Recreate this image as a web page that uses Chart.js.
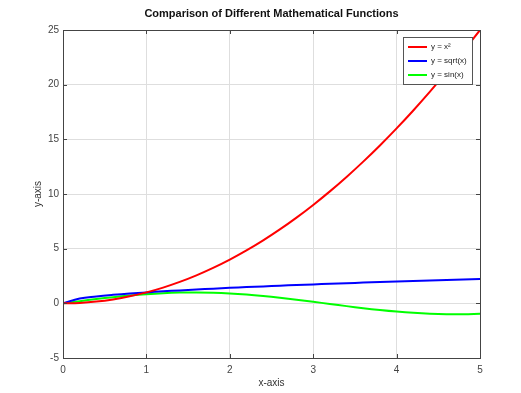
<!DOCTYPE html>
<html>
<head>
<meta charset="utf-8">
<script src="https://cdn.jsdelivr.net/npm/chart.js@4.4.1/dist/chart.umd.min.js"></script>
<style>
  html, body { margin: 0; padding: 0; background: #fff; }
  #wrap { width: 521px; height: 393px; }
</style>
</head>
<body>
<div id="wrap"><canvas id="funcChart" width="521" height="393"></canvas></div>
<script>
const xValues = [0, 0.2, 0.4, 0.6, 0.8, 1, 1.2, 1.4, 1.6, 1.8, 2, 2.2, 2.4, 2.6, 2.8, 3,
  3.2, 3.4, 3.6, 3.8, 4, 4.2, 4.4, 4.6, 4.8, 5];
const squareVals = [0, 0.04, 0.16, 0.36, 0.64, 1, 1.44, 1.96, 2.56, 3.24, 4, 4.84, 5.76,
  6.76, 7.84, 9, 10.24, 11.56, 12.96, 14.44, 16, 17.64, 19.36, 21.16, 23.04, 25];
const sqrtVals = [0, 0.447, 0.632, 0.775, 0.894, 1, 1.095, 1.183, 1.265, 1.342, 1.414,
  1.483, 1.549, 1.612, 1.673, 1.732, 1.789, 1.844, 1.897, 1.949, 2, 2.049, 2.098, 2.145,
  2.191, 2.236];
const sinVals = [0, 0.199, 0.389, 0.565, 0.717, 0.841, 0.932, 0.985, 1.0, 0.974, 0.909,
  0.808, 0.675, 0.516, 0.335, 0.141, -0.058, -0.256, -0.443, -0.612, -0.757, -0.872,
  -0.952, -0.994, -0.996, -0.959];
const seriesLabels = ["y = x²", "y = sqrt(x)", "y = sin(x)"];
const seriesColors = ["#ff0000", "#0000ff", "#00ff00"];

const FONT = "'Liberation Sans', Arial, Helvetica, sans-serif";

function toPoints(vals) {
  return xValues.map((x, i) => ({ x: x, y: vals[i] }));
}

// frame around the plot with small inward ticks on all four sides
const frameBox = {
  id: "frameBox",
  afterDatasetsDraw(chart) {
    const { ctx, chartArea: a, scales } = chart;
    ctx.save();
    ctx.strokeStyle = "#444";
    ctx.lineWidth = 1;
    ctx.beginPath();
    scales.x.ticks.forEach((t) => {
      const px = Math.round(scales.x.getPixelForValue(t.value)) + 0.5;
      ctx.moveTo(px, a.bottom); ctx.lineTo(px, a.bottom - 4);
      ctx.moveTo(px, a.top); ctx.lineTo(px, a.top + 4);
    });
    scales.y.ticks.forEach((t) => {
      const py = Math.round(scales.y.getPixelForValue(t.value)) + 0.5;
      ctx.moveTo(a.left, py); ctx.lineTo(a.left + 4, py);
      ctx.moveTo(a.right, py); ctx.lineTo(a.right - 4, py);
    });
    ctx.stroke();
    ctx.strokeRect(Math.round(a.left) + 0.5, Math.round(a.top) + 0.5,
      Math.round(a.right - a.left), Math.round(a.bottom - a.top));

    // legend box, upper right
    const bx = 403, by = 37, bw = 69, bh = 47;
    ctx.fillStyle = "#fff";
    ctx.fillRect(bx, by, bw, bh);
    ctx.strokeStyle = "#555";
    ctx.strokeRect(bx + 0.5, by + 0.5, bw, bh);
    ctx.font = "8px " + FONT;
    ctx.textBaseline = "middle";
    chart.data.datasets.forEach((ds, i) => {
      const ly = by + 10 + i * 14;
      ctx.strokeStyle = ds.borderColor;
      ctx.lineWidth = 2;
      ctx.beginPath();
      ctx.moveTo(bx + 5, ly); ctx.lineTo(bx + 24, ly);
      ctx.stroke();
      ctx.fillStyle = "#222";
      ctx.fillText(ds.label, bx + 28, ly);
    });

    // title
    ctx.fillStyle = "#111";
    ctx.font = "bold 11px " + FONT;
    ctx.textAlign = "center";
    ctx.textBaseline = "middle";
    ctx.fillText("Comparison of Different Mathematical Functions", (a.left + a.right) / 2, 14);
    ctx.restore();
  }
};

new Chart(document.getElementById("funcChart"), {
  type: "line",
  data: {
    datasets: [
      { label: seriesLabels[0], data: toPoints(squareVals) },
      { label: seriesLabels[1], data: toPoints(sqrtVals) },
      { label: seriesLabels[2], data: toPoints(sinVals) },
    ].map((ds, i) => Object.assign(ds, {
      borderColor: seriesColors[i],
      borderWidth: 2,
      pointRadius: 0,
      fill: false,
      tension: 0.4,
    })),
  },
  options: {
    responsive: false,
    animation: false,
    layout: { padding: { top: 30, right: 41, left: 0, bottom: 0 } },
    plugins: {
      legend: { display: false },
      title: { display: false },
      tooltip: { enabled: false },
    },
    scales: {
      x: {
        type: "linear",
        min: 0,
        max: 5,
        afterFit: (s) => { s.height = 35; },
        ticks: { stepSize: 1, padding: 6, color: "#444", font: { family: FONT, size: 10 } },
        grid: { color: "#dedede", drawTicks: false },
        border: { display: false },
        title: { display: true, text: "x-axis", color: "#333", font: { family: FONT, size: 10 }, padding: { top: 0, bottom: 4 } },
      },
      y: {
        min: -5,
        max: 25,
        afterFit: (s) => { s.width = 63; },
        ticks: { stepSize: 5, padding: 4, color: "#444", font: { family: FONT, size: 10 } },
        grid: { color: "#dedede", drawTicks: false },
        border: { display: false },
        title: { display: true, text: "y-axis", color: "#333", font: { family: FONT, size: 10 }, padding: { top: 32, bottom: 0 } },
      },
    },
  },
  plugins: [frameBox],
});
</script>
</body>
</html>
